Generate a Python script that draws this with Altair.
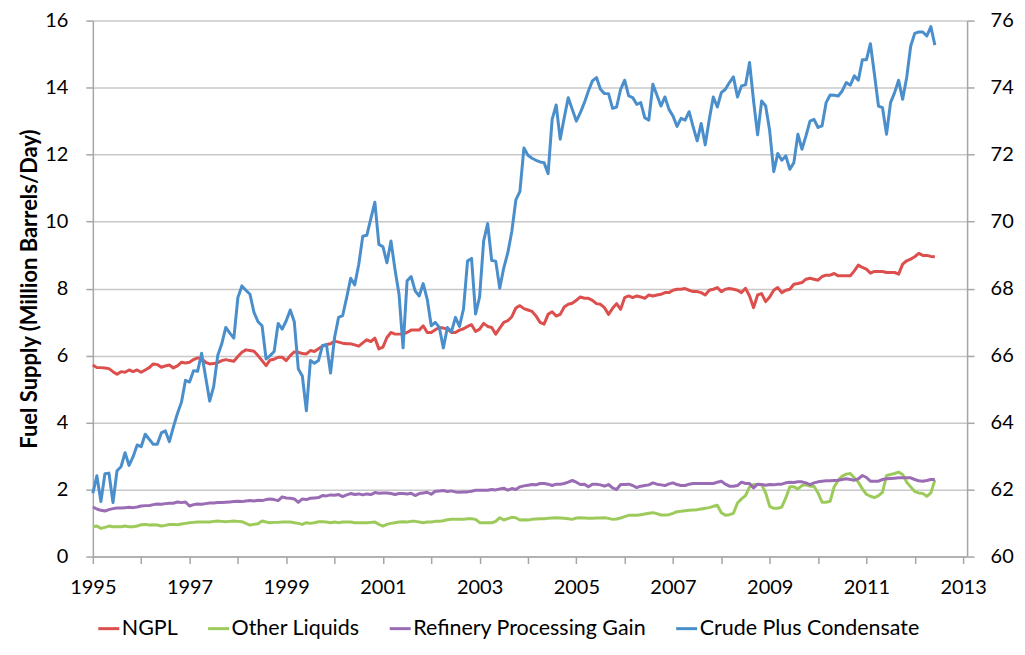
import altair as alt
import pandas as pd

start_year = 1995
series_names = ["NGPL", "Other Liquids", "Refinery Processing Gain", "Crude Plus Condensate"]
series_colors = ["#dc4f4d", "#9dcb5b", "#9a6cb4", "#4a8fcb"]
year_ticks = list(range(1995, 2014))
left_ticks = [0, 2, 4, 6, 8, 10, 12, 14, 16]
right_ticks = [60, 62, 64, 66, 68, 70, 72, 74, 76]

ngpl = [
    5.72, 5.64, 5.64, 5.63, 5.61, 5.52, 5.44, 5.52, 5.50, 5.57,
    5.52, 5.57, 5.50, 5.57, 5.64, 5.75, 5.73, 5.65, 5.69, 5.72,
    5.63, 5.69, 5.80, 5.78, 5.80, 5.88, 5.93, 5.90, 5.80, 5.75,
    5.76, 5.79, 5.85, 5.88, 5.85, 5.83, 5.97, 6.10, 6.17, 6.15,
    6.13, 6.00, 5.85, 5.70, 5.87, 5.89, 5.95, 5.95, 5.85, 6.00,
    6.11, 6.10, 6.06, 6.05, 6.15, 6.12, 6.20, 6.28, 6.33, 6.35,
    6.43, 6.40, 6.37, 6.35, 6.35, 6.32, 6.28, 6.38, 6.47, 6.42,
    6.52, 6.20, 6.25, 6.54, 6.69, 6.64, 6.64, 6.64, 6.69, 6.76,
    6.76, 6.76, 6.89, 6.69, 6.69, 6.77, 6.84, 6.82, 6.79, 6.69,
    6.69, 6.76, 6.80, 6.87, 6.92, 6.72, 6.79, 6.96, 6.87, 6.84,
    6.64, 6.82, 6.99, 7.04, 7.16, 7.42, 7.49, 7.40, 7.36, 7.32,
    7.18, 6.99, 6.94, 7.23, 7.31, 7.18, 7.23, 7.45, 7.53, 7.56,
    7.65, 7.75, 7.71, 7.71, 7.65, 7.55, 7.53, 7.43, 7.23, 7.41,
    7.55, 7.38, 7.73, 7.78, 7.73, 7.78, 7.75, 7.71, 7.81, 7.78,
    7.81, 7.83, 7.88, 7.88, 7.95, 7.98, 7.98, 8.00, 7.95, 7.91,
    7.91, 7.88, 7.81, 7.95, 7.98, 8.03, 7.91, 7.98, 8.00, 7.98,
    7.95, 7.88, 8.01, 7.78, 7.43, 7.81, 7.85, 7.61, 7.75, 7.95,
    8.03, 7.88, 7.95, 7.98, 8.13, 8.15, 8.18, 8.28, 8.31, 8.28,
    8.25, 8.36, 8.40, 8.40, 8.45, 8.38, 8.38, 8.38, 8.38, 8.53,
    8.70, 8.63, 8.58, 8.46, 8.51, 8.51, 8.51, 8.48, 8.48, 8.48,
    8.43, 8.73, 8.83, 8.88, 8.95, 9.05, 8.99, 8.99, 8.96, 8.95,
]

other_liquids = [
    0.89, 0.91, 0.84, 0.87, 0.91, 0.89, 0.89, 0.89, 0.91, 0.89,
    0.89, 0.91, 0.95, 0.96, 0.94, 0.95, 0.94, 0.91, 0.93, 0.96,
    0.96, 0.95, 0.97, 0.99, 1.01, 1.02, 1.03, 1.03, 1.03, 1.03,
    1.05, 1.06, 1.05, 1.04, 1.05, 1.06, 1.05, 1.04, 0.99, 0.94,
    0.96, 0.98, 1.06, 1.03, 1.01, 1.02, 1.02, 1.03, 1.03, 1.03,
    1.01, 0.99, 0.96, 1.01, 0.99, 1.01, 1.04, 1.04, 1.03, 1.01,
    1.03, 1.01, 1.03, 1.03, 1.03, 1.01, 1.01, 1.01, 1.01, 1.02,
    1.03, 0.96, 0.91, 0.96, 0.99, 1.01, 1.03, 1.04, 1.03, 1.05,
    1.05, 1.03, 1.01, 1.03, 1.03, 1.05, 1.05, 1.07, 1.10, 1.11,
    1.11, 1.11, 1.11, 1.13, 1.13, 1.11, 1.01, 1.01, 1.01, 1.01,
    1.05, 1.16, 1.09, 1.13, 1.17, 1.16, 1.09, 1.10, 1.09, 1.11,
    1.12, 1.13, 1.13, 1.14, 1.15, 1.16, 1.15, 1.14, 1.13, 1.11,
    1.15, 1.16, 1.15, 1.14, 1.14, 1.15, 1.15, 1.16, 1.14, 1.11,
    1.12, 1.15, 1.19, 1.23, 1.23, 1.23, 1.25, 1.27, 1.29, 1.31,
    1.28, 1.24, 1.24, 1.25, 1.29, 1.34, 1.35, 1.37, 1.38, 1.39,
    1.40, 1.42, 1.44, 1.46, 1.50, 1.53, 1.31, 1.23, 1.25, 1.29,
    1.60, 1.72, 1.82, 2.08, 2.15, 2.15, 2.15, 1.90, 1.50, 1.44,
    1.44, 1.48, 1.75, 2.08, 2.08, 2.02, 2.12, 2.14, 2.10, 2.10,
    1.90, 1.62, 1.62, 1.65, 2.08, 2.28, 2.40, 2.46, 2.48, 2.35,
    2.22, 2.02, 1.86, 1.80, 1.76, 1.82, 1.92, 2.42, 2.45, 2.48,
    2.52, 2.45, 2.22, 2.08, 1.94, 1.90, 1.88, 1.80, 1.90, 2.28,
]

refinery_gain = [
    1.48, 1.42, 1.38, 1.36, 1.40, 1.43, 1.45, 1.45, 1.46, 1.47,
    1.46, 1.48, 1.51, 1.52, 1.52, 1.55, 1.57, 1.56, 1.58, 1.59,
    1.59, 1.63, 1.61, 1.63, 1.51, 1.55, 1.57, 1.56, 1.58, 1.60,
    1.60, 1.61, 1.61, 1.62, 1.63, 1.64, 1.65, 1.64, 1.66, 1.67,
    1.66, 1.68, 1.67, 1.70, 1.72, 1.70, 1.67, 1.78, 1.75, 1.74,
    1.72, 1.62, 1.72, 1.70, 1.74, 1.75, 1.76, 1.82, 1.81, 1.84,
    1.83, 1.85, 1.79, 1.84, 1.88, 1.85, 1.87, 1.84, 1.87, 1.85,
    1.91, 1.89, 1.90, 1.90, 1.88, 1.85, 1.88, 1.88, 1.87, 1.89,
    1.82, 1.88, 1.90, 1.92, 1.86, 1.95, 1.96, 1.97, 1.94, 1.96,
    1.93, 1.92, 1.93, 1.93, 1.95, 1.98, 1.98, 1.98, 1.98, 2.00,
    1.99, 2.02, 2.04, 1.98, 2.03, 2.00, 2.08, 2.11, 2.13, 2.15,
    2.14, 2.18, 2.18, 2.16, 2.12, 2.16, 2.16, 2.18, 2.22, 2.27,
    2.22, 2.15, 2.16, 2.08, 2.16, 2.16, 2.14, 2.10, 2.15, 2.05,
    2.00, 2.15, 2.15, 2.16, 2.12, 2.06, 2.10, 2.12, 2.14, 2.20,
    2.16, 2.14, 2.12, 2.17, 2.20, 2.15, 2.12, 2.12, 2.16, 2.18,
    2.18, 2.18, 2.18, 2.18, 2.18, 2.22, 2.25, 2.16, 2.10, 2.10,
    2.12, 2.22, 2.18, 2.18, 2.05, 2.16, 2.15, 2.13, 2.15, 2.14,
    2.16, 2.16, 2.20, 2.22, 2.21, 2.23, 2.23, 2.20, 2.15, 2.20,
    2.23, 2.25, 2.26, 2.26, 2.27, 2.28, 2.30, 2.32, 2.30, 2.28,
    2.32, 2.42, 2.36, 2.25, 2.25, 2.25, 2.30, 2.32, 2.33, 2.34,
    2.35, 2.35, 2.35, 2.35, 2.30, 2.26, 2.25, 2.27, 2.30, 2.30,
]

crude = [
    61.89, 62.41, 61.64, 62.47, 62.49, 61.61, 62.56, 62.68, 63.10, 62.72,
    62.98, 63.33, 63.28, 63.65, 63.50, 63.35, 63.35, 63.69, 63.75, 63.43,
    63.87, 64.27, 64.61, 65.26, 65.21, 65.55, 65.53, 66.07, 65.36, 64.64,
    65.08, 66.00, 66.35, 66.84, 66.67, 66.52, 67.73, 68.08, 67.95, 67.83,
    67.29, 67.01, 66.89, 65.90, 66.00, 66.12, 66.96, 66.79, 67.04, 67.36,
    67.01, 65.60, 65.39, 64.35, 65.85, 65.77, 65.85, 66.30, 66.32, 65.48,
    66.54, 67.14, 67.19, 67.73, 68.31, 68.11, 68.72, 69.56, 69.59, 70.09,
    70.58, 69.32, 69.25, 68.77, 69.42, 68.57, 67.83, 66.23, 68.23, 68.36,
    67.93, 67.78, 68.15, 67.68, 66.89, 66.99, 66.84, 66.23, 66.84, 66.71,
    67.14, 66.87, 67.39, 68.82, 68.90, 67.24, 67.75, 69.42, 69.94, 68.84,
    68.82, 68.01, 68.62, 69.07, 69.71, 70.65, 70.90, 72.20, 71.98, 71.89,
    71.83, 71.78, 71.76, 71.43, 73.05, 73.48, 72.46, 73.10, 73.70, 73.35,
    73.00, 73.25, 73.55, 73.90, 74.20, 74.30, 73.95, 73.82, 73.82, 73.38,
    73.42, 73.95, 74.22, 73.75, 73.70, 73.50, 73.55, 73.10, 73.03, 74.10,
    73.78, 73.45, 73.72, 73.35, 73.15, 72.84, 73.08, 73.03, 73.28, 72.83,
    72.41, 72.93, 72.29, 73.05, 73.72, 73.42, 73.85, 73.95, 74.15, 74.32,
    73.72, 74.05, 74.08, 74.75, 73.60, 72.59, 73.60, 73.45, 72.71, 71.49,
    72.03, 71.83, 71.96, 71.56, 71.76, 72.61, 72.16, 72.56, 73.00, 73.05,
    72.81, 72.86, 73.55, 73.78, 73.77, 73.75, 73.90, 74.15, 74.07, 74.35,
    74.22, 74.83, 74.83, 75.31, 74.40, 73.45, 73.40, 72.61, 73.55, 73.85,
    74.22, 73.65, 74.30, 75.24, 75.62, 75.66, 75.66, 75.54, 75.82, 75.27,
]

n = len(crude)
t = [start_year + i / 12 for i in range(n)]

left_df = pd.DataFrame({
    "t": t * 3,
    "value": ngpl + other_liquids + refinery_gain,
    "series": [series_names[0]] * n + [series_names[1]] * n + [series_names[2]] * n,
    "order": [0] * n + [1] * n + [2] * n,
})
right_df = pd.DataFrame({"t": t, "value": crude, "series": [series_names[3]] * n})

FONT = "Lato"

color = alt.Color(
    "series:N",
    scale=alt.Scale(domain=series_names, range=series_colors),
    legend=alt.Legend(
        title=None, orient="none", direction="horizontal", columns=4,
        legendX=4, legendY=597, symbolType="stroke", symbolStrokeWidth=3,
        symbolSize=441, labelFont=FONT, labelFontSize=21.5, labelColor="#000000",
        labelOffset=1, columnPadding=23, padding=0, labelLimit=400,
    ),
)

x = alt.X(
    "t:Q",
    scale=alt.Scale(domain=[1995, 2013.083], nice=False, zero=False),
    axis=alt.Axis(
        values=year_ticks, format="d",
        labelExpr="datum.value % 2 == 1 ? datum.label : ''",
        grid=False, tickSize=7, tickColor="#a6a6a6", domainColor="#a6a6a6",
        domainWidth=1.5, tickWidth=1.5, labelPadding=14, labelFlush=False,
    ),
    title=None,
)

left = alt.Chart(left_df).mark_line(strokeWidth=3, strokeJoin="round").encode(
    x=x,
    y=alt.Y(
        "value:Q",
        scale=alt.Scale(domain=[0, 16], nice=False),
        axis=alt.Axis(
            values=left_ticks, orient="left", grid=True, gridColor="#c8c8c8",
            gridWidth=1.5, tickSize=7, tickColor="#a6a6a6", domainColor="#a6a6a6",
            domainWidth=1.5, tickWidth=1.5, labelPadding=18,
            title="Fuel Supply (Million Barrels/Day)", titleFont=FONT,
            titleFontSize=22, titleFontWeight="bold", titleColor="#000000",
            titlePadding=3,
        ),
    ),
    color=color,
    detail="series:N",
    order="order:Q",
)

right = alt.Chart(right_df).mark_line(strokeWidth=3, strokeJoin="round").encode(
    x=x,
    y=alt.Y(
        "value:Q",
        scale=alt.Scale(domain=[60, 76], nice=False, zero=False),
        axis=alt.Axis(
            values=right_ticks, orient="right", grid=False, tickSize=7,
            tickColor="#a6a6a6", domainColor="#a6a6a6", domainWidth=1.5,
            tickWidth=1.5, labelPadding=16, title=None,
        ),
    ),
    color=color,
)

chart = alt.layer(left, right).resolve_scale(y="independent").properties(
    width=876, height=537,
    autosize=alt.AutoSizeParams(type="none"),
    padding={"left": 85, "top": 12, "right": 50, "bottom": 86},
).configure_axis(
    labelFont=FONT, labelFontSize=20, labelColor="#000000",
).configure_view(stroke=None)

chart.save("out.html", embed_options={"renderer": "svg", "actions": False})
